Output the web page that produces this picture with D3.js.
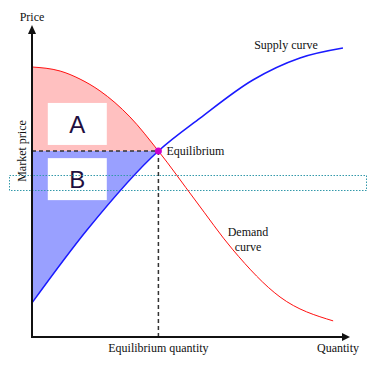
<!DOCTYPE html>
<html>
<head>
<meta charset="utf-8">
<script src="https://cdn.jsdelivr.net/npm/d3@7"></script>
<style>
  body { margin: 0; background: #fff; }
  text { font-family: "Liberation Serif", "DejaVu Serif", serif; font-size: 12px; fill: #111; }
</style>
</head>
<body>
<svg id="chart" width="384" height="376"></svg>
<script>
// curve points (quantity 0-100, price 0-100)
var demandQ = [0, 8.9, 15.2, 21.5, 31, 40, 51.6, 63.6, 78.5, 95.3];
var demandP = [87.1, 85.8, 83.2, 79.4, 71, 60, 44.2, 28.1, 12.9, 5.2];
var supplyQ = [0, 17.4, 40, 53.2, 69.9, 84.8, 98.4];
var supplyP = [11, 34.5, 60, 70.6, 82.9, 90, 93.2];
var eqQ = 40, eqP = 60;
var areaLabels = ["A", "B"];

var svg = d3.select("#chart");

var xScale = d3.scaleLinear().domain([0, 100]).range([32, 348]);
var yScale = d3.scaleLinear().domain([0, 100]).range([337, 27]);

var demand = demandQ.map((q, i) => [q, demandP[i]]);
var supply = supplyQ.map((q, i) => [q, supplyP[i]]);

var defs = svg.append("defs");
defs.append("clipPath").attr("id", "leftOfEq")
  .append("rect")
  .attr("x", xScale(0)).attr("y", 0)
  .attr("width", xScale(eqQ) - xScale(0)).attr("height", 376);

var line = d3.line()
  .x(d => xScale(d[0]))
  .y(d => yScale(d[1]))
  .curve(d3.curveMonotoneX);

var band = d3.area()
  .x(d => xScale(d[0]))
  .y0(yScale(eqP))
  .y1(d => yScale(d[1]))
  .curve(d3.curveMonotoneX);

// consumer surplus (A) and producer surplus (B)
svg.append("path").datum(demand)
  .attr("d", band)
  .attr("clip-path", "url(#leftOfEq)")
  .attr("fill", "#ffc0c0");
svg.append("path").datum(supply)
  .attr("d", band)
  .attr("clip-path", "url(#leftOfEq)")
  .attr("fill", "#99a0ff");

// label boxes
var boxY = [75.5, 57.7];
areaLabels.forEach((lab, i) => {
  var top = yScale(boxY[i]);
  svg.append("rect")
    .attr("x", xScale(5)).attr("y", top)
    .attr("width", 59).attr("height", 42)
    .attr("fill", "#fff");
  svg.append("text")
    .attr("x", xScale(5) + 29.5).attr("y", top + 30)
    .attr("text-anchor", "middle")
    .style("font-family", "'Liberation Sans', Arial, sans-serif")
    .style("font-size", "24px")
    .style("fill", "#1f0f3f")
    .text(lab);
});

// dotted box
svg.append("rect")
  .attr("x", 9.5).attr("y", 175.5)
  .attr("width", 357).attr("height", 15)
  .attr("fill", "none")
  .attr("stroke", "#3399aa")
  .attr("stroke-width", 1)
  .attr("stroke-dasharray", "1.5,1.5");

// curves
svg.append("path").datum(demand)
  .attr("d", line)
  .attr("fill", "none")
  .attr("stroke", "#ff1010")
  .attr("stroke-width", 1);
svg.append("path").datum(supply)
  .attr("d", line)
  .attr("fill", "none")
  .attr("stroke", "#1a1aff")
  .attr("stroke-width", 1.5);

// dashed guides
svg.append("line")
  .attr("x1", xScale(0)).attr("y1", yScale(eqP))
  .attr("x2", xScale(eqQ)).attr("y2", yScale(eqP))
  .attr("stroke", "#333").attr("stroke-width", 1.5)
  .attr("stroke-dasharray", "4,3");
svg.append("line")
  .attr("x1", xScale(eqQ)).attr("y1", yScale(eqP))
  .attr("x2", xScale(eqQ)).attr("y2", yScale(0))
  .attr("stroke", "#333").attr("stroke-width", 1.5)
  .attr("stroke-dasharray", "4,3");

// axes with arrows
svg.append("line")
  .attr("x1", xScale(0)).attr("y1", yScale(0) + 1)
  .attr("x2", xScale(0)).attr("y2", 33)
  .attr("stroke", "#111").attr("stroke-width", 2);
svg.append("path")
  .attr("d", `M${xScale(0) - 4},34 L${xScale(0)},25 L${xScale(0) + 4},34 Z`)
  .attr("fill", "#111");
svg.append("line")
  .attr("x1", xScale(0) - 1).attr("y1", yScale(0))
  .attr("x2", 343).attr("y2", yScale(0))
  .attr("stroke", "#111").attr("stroke-width", 2);
svg.append("path")
  .attr("d", `M342,${yScale(0) - 4} L350,${yScale(0)} L342,${yScale(0) + 4} Z`)
  .attr("fill", "#111");

// equilibrium point
svg.append("circle")
  .attr("cx", xScale(eqQ)).attr("cy", yScale(eqP))
  .attr("r", 3.5)
  .attr("fill", "#cc00cc");

// text labels
svg.append("text").attr("x", xScale(0)).attr("y", 21)
  .attr("text-anchor", "middle").text("Price");
svg.append("text").attr("x", 338).attr("y", 352)
  .attr("text-anchor", "middle").text("Quantity");
svg.append("text").attr("x", xScale(eqQ)).attr("y", 352)
  .attr("text-anchor", "middle").text("Equilibrium quantity");
svg.append("text").attr("x", xScale(eqQ) + 8).attr("y", yScale(eqP) + 4)
  .text("Equilibrium");
svg.append("text").attr("x", 286).attr("y", 49)
  .attr("text-anchor", "middle").text("Supply curve");
svg.append("text").attr("x", 248).attr("y", 236)
  .attr("text-anchor", "middle").text("Demand");
svg.append("text").attr("x", 248).attr("y", 251)
  .attr("text-anchor", "middle").text("curve");
svg.append("text")
  .attr("transform", `translate(26,${yScale(eqP)}) rotate(-90)`)
  .attr("text-anchor", "middle").text("Market price");
</script>
</body>
</html>
